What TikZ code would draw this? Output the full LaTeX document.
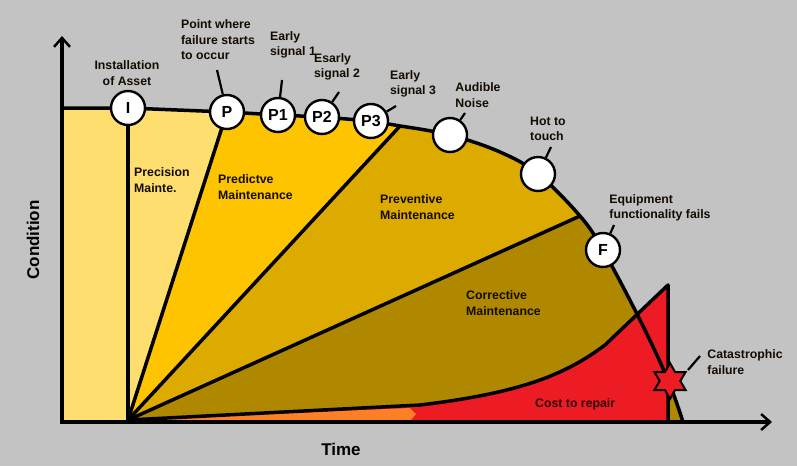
\documentclass[tikz,border=0pt]{standalone}
\usepackage{fontspec}
\setmainfont{Liberation Sans}
\usetikzlibrary{arrows.meta,calc}
\definecolor{bg}{RGB}{195,195,195}
\definecolor{lighty}{RGB}{253,222,110}
\definecolor{predc}{RGB}{254,196,0}
\definecolor{prevc}{RGB}{221,170,0}
\definecolor{corrc}{RGB}{176,136,0}
\definecolor{redc}{RGB}{237,28,36}
\definecolor{orc}{RGB}{255,127,39}
\definecolor{txtc}{RGB}{20,12,0}
\tikzset{
  mk/.style={circle,draw=black,line width=2.4pt,fill=white,minimum size=34pt,inner sep=0pt,font=\bfseries\fontsize{16}{16}\selectfont},
  lbl/.style={font=\bfseries\fontsize{12.3}{15.5}\selectfont,align=left,text=txtc,inner sep=0pt},
  ptr/.style={line width=2.2pt},
  thick line/.style={line width=3.5pt}
}
\begin{document}
\begin{tikzpicture}[x=1pt,y=-1pt]
\fill[bg] (0,0) rectangle (797,466);
\useasboundingbox (0,0) rectangle (797,466);
\coordinate (O) at (128,420);
\def\curvepath{(62,422)--(62,108)--(128,108)--(227,112)--(278,115)--(322,117)--(371,121)--(400,126)--plot[smooth,tension=0.6] coordinates {(400,126)(450,135)(500,152)(538,174)(580,216)(603,250)(640,320)(668,380)(683,422)}}
\begin{scope}
\clip \curvepath -- cycle;
\fill[corrc] (0,0) rectangle (797,466);
\fill[prevc] (O) -- ($(O)!3!(580,216)$) -- (-400,-800) -- cycle;
\fill[predc] (O) -- ($(O)!3!(400,126)$) -- (-400,-800) -- cycle;
\fill[lighty] (O) -- ($(O)!3!(227,112)$) -- (-400,-800) -- (-400,466) -- cycle;
\end{scope}
% cost to repair
\fill[redc] (O) -- (420,405) .. controls (520,393) and (565,375) .. (605,345) -- (668,285) -- (668,422) -- (128,422) -- cycle;
\fill[orc] (130,420) -- (410,408) -- (416,414) -- (410,421) -- cycle;
\draw[thick line,line join=round] (O) -- (420,405) .. controls (520,393) and (565,375) .. (605,345) -- (668,285) -- (668,422);
% sector lines
\draw[thick line] (O) -- (128,108);
\draw[thick line] (O) -- (227,112);
\draw[thick line] (O) -- (400,126);
\draw[thick line] (O) -- (580,216);
% main curve
\draw[thick line,line join=round] (62,108)--(128,108)--(227,112)--(278,115)--(322,117)--(371,121)--(400,126)--plot[smooth,tension=0.6] coordinates {(400,126)(450,135)(500,152)(538,174)(580,216)(603,250)(640,320)(668,380)(683,422)};
% axes
\draw[line width=3.5pt,-{Straight Barb[length=9pt,width=16pt,line width=2.5pt]}] (62,424) -- (62,36);
\draw[line width=3.5pt,-{Straight Barb[length=9pt,width=16pt,line width=2.5pt]}] (60,422) -- (772,422);
% markers
\node[mk] (nI) at (128,108) {I};
\node[mk] (nP) at (227,112) {P};
\node[mk] (nP1) at (278,115) {P1};
\node[mk] (nP2) at (322,117) {P2};
\node[mk] (nP3) at (371,121) {P3};
\node[mk] (nA) at (450,135) {};
\node[mk] (nH) at (538,174) {};
\node[mk] (nF) at (603,250) {F};
% star
\coordinate (star) at (670,381);
\fill[redc,draw=black,line width=2pt] (670,363)--(675,372)--(685.6,372)--(680.3,381)--(685.6,390)--(675,390)--(670,399)--(665,390)--(654.4,390)--(659.7,381)--(654.4,372)--(665,372)--cycle;
% labels
\node[lbl,align=center] (tI) at (127,73) {Installation\\of Asset};
\node[lbl] (tP) at (218,40) {Point where\\failure starts\\to occur};
\node[lbl] (tP1) at (293,45) {Early\\signal 1};
\node[lbl] (tP2) at (337,67) {Esarly\\signal 2};
\node[lbl] (tP3) at (413,84) {Early\\signal 3};
\node[lbl] (tA) at (478,95) {Audible\\Noise};
\node[lbl] (tH) at (548,129) {Hot to\\touch};
\node[lbl] (tF) at (660,208) {Equipment\\functionality fails};
\node[lbl] (tC) at (745,362) {Catastrophic\\failure};
\draw[ptr] (217,70) -- (nP);
\draw[ptr] (282,80) -- (nP1);
\draw[ptr] (339,92) -- (nP2);
\draw[ptr] (396,106) -- (nP3);
\draw[ptr] (465,113) -- (nA);
\draw[ptr] (551,147) -- (nH);
\draw[ptr] (614,225) -- (nF);
\draw[ptr] (700,356) -- (688,370);
\node[lbl,anchor=west] (rPr) at (134,180) {Precision\\Mainte.};
\node[lbl,anchor=west] (rPd) at (218,187) {Predictve\\Maintenance};
\node[lbl,anchor=west] (rPv) at (380,207) {Preventive\\Maintenance};
\node[lbl,anchor=west] (rCo) at (466,303) {Corrective\\Maintenance};
\node[lbl,anchor=west,text=black!80!redc] (rCost) at (535,404) {Cost to repair};
\node[font=\bfseries\fontsize{17}{17}\selectfont,rotate=90] (cond) at (33,240) {Condition};
\node[font=\bfseries\fontsize{17}{17}\selectfont] (time) at (341,449) {Time};
\end{tikzpicture}
\end{document}
